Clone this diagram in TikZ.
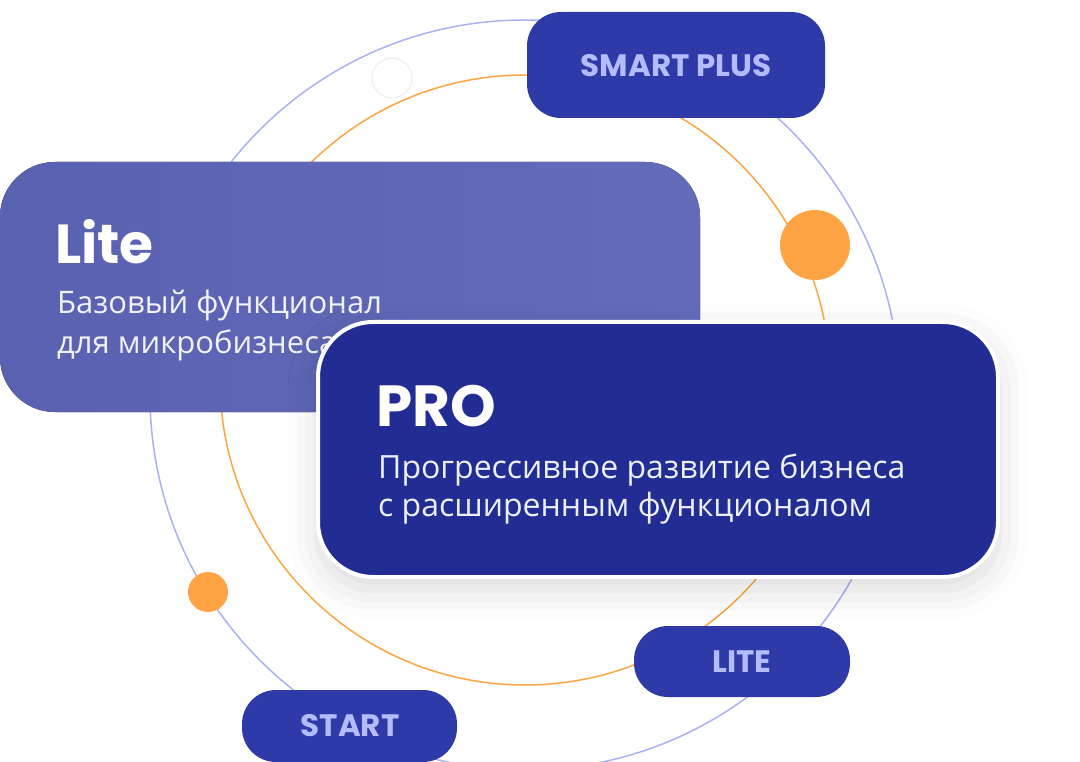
\documentclass[tikz,border=0pt]{standalone}
\usepackage{fontspec}
\setmainfont{Open Sans}
\newfontfamily\pop{Poppins}
\usetikzlibrary{shadows.blur}
\definecolor{lav}{HTML}{AAB0F5}
\definecolor{org}{HTML}{FFA444}
\definecolor{pill}{HTML}{2E3AA8}
\definecolor{pilltxt}{HTML}{B4BCFF}
\definecolor{litec}{HTML}{5C64B6}
\definecolor{proc}{HTML}{222D93}
\tikzset{
  pillbox/.style={fill=pill,rounded corners=34pt,draw=none},
  pilllabel/.style={text=pilltxt,font=\pop\fontsize{31}{33}\selectfont\bfseries},
  txt/.style={anchor=base west,inner sep=0},
}
\begin{document}
\begin{tikzpicture}[x=1pt,y=-1pt]
\useasboundingbox (0,0) rectangle (1080,762);
\draw[lav,line width=1.5pt] (525,395) circle (375);
\draw[org,line width=1.5pt] (525,380) circle (305);
\fill[org] (815,245) circle (35);
\fill[org] (208,592) circle (20);
\draw[gray!15,line width=1pt] (392,78) circle (20);
% pills
\fill[pillbox] (527,12) rectangle (825,118);
\node[pilllabel] (sp) at (676,66) {SMART PLUS};
\fill[pillbox] (634,626) rectangle (850,697);
\node[pilllabel] (li) at (742,662) {LITE};
\fill[pillbox] (242,690) rectangle (457,762);
\node[pilllabel] (st) at (350,726) {START};
% Lite card
\fill[left color=litec!97!black,right color=litec!95!white,rounded corners=55pt] (0,162) rectangle (700,412);
\node[txt,text=white,font=\pop\fontsize{55}{57}\selectfont\bfseries] (lt) at (55,264) {Lite};
\node[txt,text=white!92!litec,font=\fontsize{31}{40}\selectfont] (ls1) at (57,314) {Базовый функционал};
\node[txt,text=white!92!litec,font=\fontsize{31}{40}\selectfont] (ls2) at (57,353) {для микробизнеса};
% PRO card
\fill[proc,draw=white,line width=4pt,rounded corners=55pt,blur shadow={shadow xshift=0pt,shadow yshift=-12pt,shadow blur radius=30pt,shadow opacity=15}] (318,322) rectangle (998,577);
\node[txt,text=white,font=\pop\fontsize{58}{60}\selectfont\bfseries] (pt) at (376,426) {PRO};
\node[txt,text=white!92!proc,font=\fontsize{32}{38}\selectfont] (ps1) at (378,478) {Прогрессивное развитие бизнеса};
\node[txt,text=white!92!proc,font=\fontsize{32}{38}\selectfont] (ps2) at (378,516) {с расширенным функционалом};
\end{tikzpicture}
\end{document}
